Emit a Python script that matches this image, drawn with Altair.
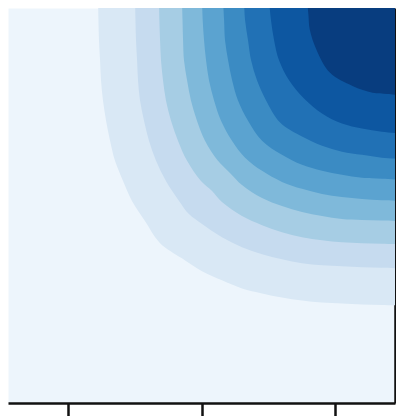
import altair as alt
import pandas as pd

# Contour boundaries (levels 0.1 ... 0.9), in data units.
lvl1_x = [-0.774, -0.771, -0.767, -0.759, -0.752, -0.737, -0.714, -0.684, -0.647, -0.587, -0.520, -0.423, -0.310, -0.146, 0.004, 0.153, 0.303, 0.453, 0.602, 0.752, 0.902, 1.051, 1.201, 1.35, 1.5]
lvl1_y = [1.5, 1.35, 1.201, 1.051, 0.902, 0.752, 0.602, 0.453, 0.303, 0.153, 0.004, -0.146, -0.310, -0.423, -0.520, -0.587, -0.647, -0.684, -0.714, -0.737, -0.752, -0.759, -0.767, -0.771, -0.774]

lvl2_x = [-0.497, -0.494, -0.490, -0.482, -0.475, -0.460, -0.430, -0.393, -0.340, -0.266, -0.168, -0.094, 0.004, 0.153, 0.303, 0.453, 0.602, 0.752, 0.902, 1.051, 1.201, 1.35, 1.5]
lvl2_y = [1.5, 1.35, 1.201, 1.051, 0.902, 0.752, 0.602, 0.453, 0.303, 0.153, 0.004, -0.094, -0.168, -0.266, -0.340, -0.393, -0.430, -0.460, -0.475, -0.482, -0.490, -0.494, -0.497]

lvl3_x = [-0.318, -0.315, -0.310, -0.303, -0.288, -0.266, -0.228, -0.176, -0.108, -0.004, 0.079, 0.153, 0.303, 0.453, 0.602, 0.752, 0.902, 1.051, 1.201, 1.35, 1.5]
lvl3_y = [1.5, 1.35, 1.201, 1.051, 0.902, 0.752, 0.602, 0.453, 0.303, 0.153, 0.079, -0.004, -0.108, -0.176, -0.228, -0.266, -0.288, -0.303, -0.310, -0.315, -0.318]

lvl4_x = [-0.146, -0.142, -0.138, -0.131, -0.108, -0.079, -0.034, 0.026, 0.123, 0.213, 0.303, 0.453, 0.602, 0.752, 0.902, 1.051, 1.201, 1.35, 1.5]
lvl4_y = [1.5, 1.35, 1.201, 1.051, 0.902, 0.752, 0.602, 0.453, 0.303, 0.213, 0.123, 0.026, -0.034, -0.079, -0.108, -0.131, -0.138, -0.142, -0.146]

lvl5_x = [0.004, 0.009, 0.019, 0.034, 0.056, 0.094, 0.146, 0.228, 0.326, 0.453, 0.602, 0.752, 0.902, 1.051, 1.201, 1.35, 1.5]
lvl5_y = [1.5, 1.35, 1.201, 1.051, 0.902, 0.752, 0.602, 0.453, 0.326, 0.228, 0.146, 0.094, 0.056, 0.034, 0.019, 0.009, 0.004]

lvl6_x = [0.161, 0.169, 0.176, 0.199, 0.229, 0.273, 0.348, 0.453, 0.602, 0.752, 0.902, 1.051, 1.201, 1.35, 1.5]
lvl6_y = [1.5, 1.35, 1.201, 1.051, 0.902, 0.752, 0.602, 0.453, 0.348, 0.273, 0.229, 0.199, 0.176, 0.169, 0.161]

lvl7_x = [0.318, 0.326, 0.348, 0.371, 0.415, 0.483, 0.588, 0.752, 0.902, 1.051, 1.201, 1.35, 1.5]
lvl7_y = [1.5, 1.35, 1.201, 1.051, 0.902, 0.752, 0.588, 0.483, 0.415, 0.371, 0.348, 0.326, 0.318]

lvl8_x = [0.505, 0.52, 0.543, 0.58, 0.655, 0.767, 0.902, 1.051, 1.201, 1.35, 1.5]
lvl8_y = [1.5, 1.35, 1.201, 1.051, 0.902, 0.767, 0.655, 0.58, 0.543, 0.52, 0.505]

lvl9_x = [0.79, 0.80, 0.81, 0.86, 0.96, 1.13, 1.28, 1.39, 1.5]
lvl9_y = [1.5, 1.39, 1.28, 1.13, 0.96, 0.86, 0.81, 0.80, 0.79]

band_colors = ["#d9e8f5", "#c6dbef", "#a6cde4", "#7fb9da", "#5ba3d0",
               "#3b8bc3", "#2171b5", "#0d57a1", "#083d7f"]
base_color = "#edf5fc"
x_ticks = [-1, 0, 1]
field_top = 1.5

curves = [(lvl1_x, lvl1_y), (lvl2_x, lvl2_y), (lvl3_x, lvl3_y), (lvl4_x, lvl4_y),
          (lvl5_x, lvl5_y), (lvl6_x, lvl6_y), (lvl7_x, lvl7_y), (lvl8_x, lvl8_y),
          (lvl9_x, lvl9_y)]

X = alt.X("x:Q", scale=alt.Scale(domain=[-1.4476, 1.4476], nice=False, zero=False),
          axis=alt.Axis(values=x_ticks, labels=False, title=None, grid=False,
                        tickSize=13, tickWidth=2.5, tickColor="#111111",
                        domainColor="#111111", domainWidth=2.5))
Y = alt.Y("y:Q", scale=alt.Scale(domain=[-1.5, 1.4404], nice=False, zero=False),
          axis=alt.Axis(orient="right", labels=False, ticks=False, title=None,
                        grid=False, domainColor="#111111", domainWidth=2.5))

layers = []
for (xs, ys), col in zip(curves, band_colors):
    df = pd.DataFrame({"x": xs, "y": ys})
    layers.append(
        alt.Chart(df).mark_area(color=col, interpolate="catmull-rom", clip=True)
        .encode(x=X, y=Y, y2=alt.datum(field_top))
    )

chart = alt.layer(*layers).properties(
    width=387, height=395, autosize="none",
    padding={"left": 0, "top": 0, "right": 1, "bottom": 13},
).configure_view(fill=base_color, stroke="transparent")

chart.save("out.html", embed_options={"renderer": "svg", "actions": False})
